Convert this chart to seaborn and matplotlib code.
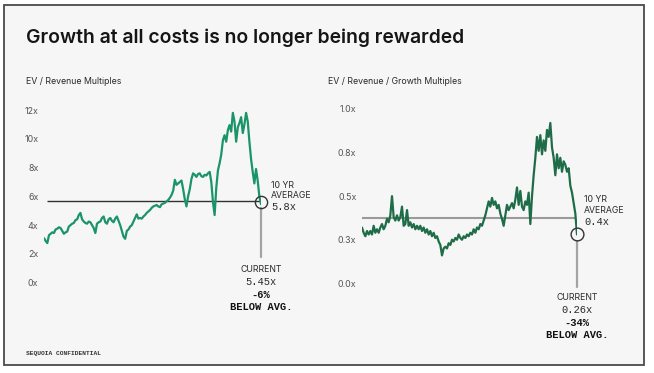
import matplotlib
matplotlib.use("Agg")
import matplotlib.pyplot as plt
import seaborn as sns
import numpy as np
import pandas as pd
from matplotlib.patches import Rectangle

# ---------------- data ----------------
ev_rev = [3.1, 2.9, 2.75, 3.3, 3.4, 3.5, 3.45, 3.7, 3.75, 3.85, 3.8, 3.6, 3.4, 3.5, 3.55,
          3.9, 4.0, 4.1, 4.15, 4.35, 4.4, 4.7, 4.85, 4.4, 4.25, 4.15, 4.1, 4.25, 4.2, 4.0,
          3.8, 3.45, 4.1, 4.2, 4.25, 4.5, 4.6, 4.2, 4.1, 4.4, 4.5, 4.3, 4.2, 4.45, 4.6,
          4.3, 4.0, 3.6, 3.2, 3.05, 3.6, 3.7, 3.9, 4.0, 4.25, 4.5, 4.75, 4.45, 4.5, 4.45,
          4.6, 4.7, 4.85, 4.95, 5.05, 5.2, 5.3, 5.35, 5.4, 5.3, 5.25, 5.45, 5.5, 5.55, 5.65,
          5.75, 5.9, 6.1, 6.4, 7.15, 6.8, 6.9, 7.0, 7.1, 6.5, 5.8, 5.3, 6.0, 6.5, 7.2,
          7.6, 7.5, 7.35, 7.55, 7.6, 7.4, 7.35, 7.5, 7.45, 7.6, 7.7, 7.0, 5.6, 4.7, 6.6,
          7.8, 8.3, 8.9, 9.9, 10.25, 9.8, 10.6, 10.95, 10.5, 11.8, 11.2, 9.8, 10.8, 11.1, 11.5,
          10.4, 11.0, 11.8, 11.2, 9.8, 8.6, 7.7, 6.9, 7.9, 7.1, 6.0, 5.45]

ev_rev_growth = [0.32, 0.29, 0.27, 0.30, 0.28, 0.30, 0.28, 0.33, 0.29, 0.31, 0.29, 0.32, 0.34, 0.31,
                 0.33, 0.37, 0.35, 0.39, 0.50, 0.38, 0.36, 0.39, 0.36, 0.38, 0.44, 0.33, 0.34, 0.42,
                 0.33, 0.35, 0.32, 0.34, 0.31, 0.33, 0.31, 0.33, 0.30, 0.32, 0.29, 0.31, 0.28, 0.30,
                 0.27, 0.29, 0.26, 0.27, 0.24, 0.22, 0.16, 0.20, 0.21, 0.20, 0.23, 0.22, 0.25, 0.24,
                 0.26, 0.25, 0.28, 0.26, 0.25, 0.27, 0.26, 0.28, 0.27, 0.29, 0.28, 0.31, 0.29, 0.32,
                 0.31, 0.34, 0.33, 0.36, 0.39, 0.43, 0.47, 0.44, 0.49, 0.45, 0.47, 0.43, 0.45, 0.40,
                 0.37, 0.33, 0.39, 0.45, 0.42, 0.44, 0.46, 0.43, 0.48, 0.55, 0.45, 0.53, 0.44, 0.42,
                 0.47, 0.45, 0.52, 0.34, 0.50, 0.62, 0.72, 0.84, 0.76, 0.85, 0.74, 0.82, 0.76, 0.88,
                 0.84, 0.92, 0.78, 0.72, 0.62, 0.74, 0.66, 0.72, 0.64, 0.70, 0.68, 0.64, 0.66, 0.56,
                 0.52, 0.46, 0.40, 0.28]

left_ticks = [0, 2, 4, 6, 8, 10, 12]
left_ticklabels = ["0x", "2x", "4x", "6x", "8x", "10x", "12x"]
right_ticks = [0.0, 0.25, 0.5, 0.75, 1.0]
right_ticklabels = ["0.0x", "0.3x", "0.5x", "0.8x", "1.0x"]

left_avg = 5.65     # drawn level of the 10 yr average line
right_avg = 0.375
left_avg_label = "5.8x"
right_avg_label = "0.4x"
left_current_label = "5.45x"
right_current_label = "0.26x"
left_delta = "-6%"
right_delta = "-34%"

title = "Growth at all costs is no longer being rewarded"
left_sub = "EV / Revenue Multiples"
right_sub = "EV / Revenue / Growth Multiples"

# ---------------- figure ----------------
sns.set_style("white")
plt.rcParams["font.family"] = ["Inter", "DejaVu Sans"]

W, H = 654, 373
fig = plt.figure(figsize=(W / 100, H / 100), dpi=100, facecolor="white")

def fx(x):
    return x / W

def fy(y):
    return 1 - y / H

# slide panel
fig.patches.append(Rectangle((fx(4), fy(365)), fx(644) - fx(4), fy(5) - fy(365),
                             transform=fig.transFigure, facecolor="#f6f6f6",
                             edgecolor="#4a4a4a", linewidth=1.3, zorder=-10))

MONO = ["Liberation Mono", "DejaVu Sans Mono"]
TXT = "#2a2a2a"

def style_axis(ax, ticks, labels):
    for s in ax.spines.values():
        s.set_visible(False)
    ax.set_facecolor("none")
    ax.set_xticks([])
    ax.set_yticks(ticks)
    ax.set_yticklabels(labels)
    ax.tick_params(axis="y", length=0, pad=4, labelsize=6.4, labelcolor="#555555")
    ax.set_xlabel("")
    ax.set_ylabel("")
    ax.grid(False)

# left chart
axl = fig.add_axes([fx(44), fy(282.7), fx(261) - fx(44), fy(110) - fy(282.7)])
nl = len(ev_rev)
dfl = pd.DataFrame({"t": np.arange(nl), "v": ev_rev})
axl.hlines(left_avg, 2, nl - 1, color="#333333", lw=1.0, zorder=1)
sns.lineplot(data=dfl, x="t", y="v", ax=axl, color="#1a9468", lw=1.6, zorder=2)
axl.set_xlim(0, nl - 1)
axl.set_ylim(0, 12)
style_axis(axl, left_ticks, left_ticklabels)
axl.plot([nl - 1, nl - 1], [5.19, 1.79], color="#a3a3a3", lw=1.6, clip_on=False, zorder=3)
axl.plot([nl - 1], [5.6], marker="o", ms=8.8, mfc="none", mec="#333333", mew=1.0,
         clip_on=False, zorder=4)

# right chart
axr = fig.add_axes([fx(362), fy(283.3), fx(577) - fx(362), fy(109) - fy(283.3)])
nr = len(ev_rev_growth)
dfr = pd.DataFrame({"t": np.arange(nr), "v": ev_rev_growth})
axr.hlines(right_avg, 0, nr - 2, color="#9a9a9a", lw=1.5, zorder=1)
sns.lineplot(data=dfr, x="t", y="v", ax=axr, color="#1e6d48", lw=1.6, zorder=2)
axr.set_xlim(0, nr - 1)
axr.set_ylim(0, 1.0)
style_axis(axr, right_ticks, right_ticklabels)
axr.plot([nr - 1, nr - 1], [0.245, -0.021], color="#a3a3a3", lw=1.6, clip_on=False, zorder=3)
axr.plot([nr - 1], [0.283], marker="o", ms=9.2, mfc="none", mec="#333333", mew=1.0,
         clip_on=False, zorder=4)

# texts
fig.text(fx(26), fy(38), title, fontsize=13.9, fontweight="semibold", color="#151515",
         ha="left", va="center")
fig.text(fx(26), fy(82), left_sub, fontsize=6.3, color=TXT, ha="left", va="center")
fig.text(fx(328), fy(82), right_sub, fontsize=6.3, color=TXT, ha="left", va="center")

def annot(x_avg, y10, avg_label, xc, ycur, cur_label, delta):
    fig.text(fx(x_avg), fy(y10), "10 YR", fontsize=6.3, color=TXT, ha="left", va="center")
    fig.text(fx(x_avg), fy(y10 + 10), "AVERAGE", fontsize=6.3, color=TXT, ha="left", va="center")
    fig.text(fx(x_avg), fy(y10 + 22), avg_label, fontsize=7.5, color=TXT, ha="left",
             va="center", family=MONO)
    fig.text(fx(xc), fy(ycur), "CURRENT", fontsize=6.3, color=TXT, ha="center", va="center")
    fig.text(fx(xc), fy(ycur + 13), cur_label, fontsize=7.5, color=TXT, ha="center",
             va="center", family=MONO)
    fig.text(fx(xc), fy(ycur + 25.5), delta, fontsize=7.5, color="#111111", ha="center",
             va="center", family=MONO, fontweight="bold")
    fig.text(fx(xc), fy(ycur + 38), "BELOW AVG.", fontsize=7.5, color="#111111", ha="center",
             va="center", family=MONO, fontweight="bold")

annot(271, 185, left_avg_label, 261, 269, left_current_label, left_delta)
annot(584, 200, right_avg_label, 577, 297, right_current_label, right_delta)

fig.text(fx(26), fy(354), "SEQUOIA CONFIDENTIAL", fontsize=4.5, color="#333333",
         ha="left", va="center", family=MONO, fontweight="bold")

fig.savefig("out.png", dpi=100, facecolor="white")
